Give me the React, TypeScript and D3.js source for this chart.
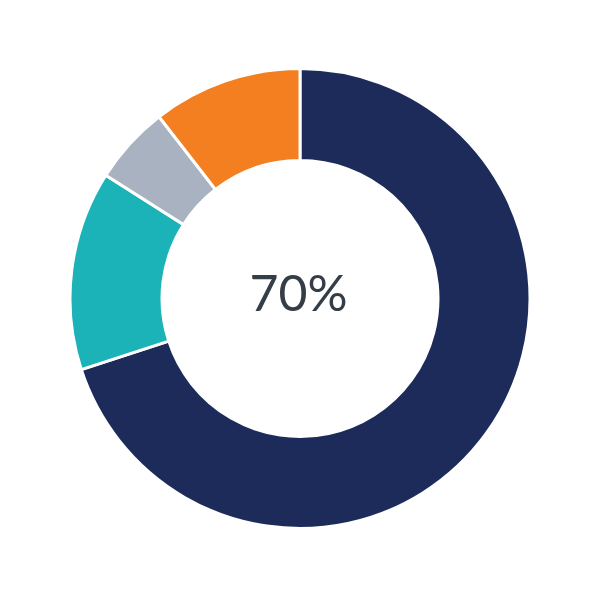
import * as d3 from "d3"

const categories = ["Primary", "Secondary", "Other", "Remaining"]
const values = [70, 14, 5.5, 10.5]
const colors = ["#1c2b5a", "#1cb3b8", "#a8b2c1", "#f37f21"]
const centerLabel = "70%"

export default function App() {
  const width = 600
  const height = 599
  const cx = 300
  const cy = 298.5
  const outerRadius = 230
  const innerRadius = 138

  const pie = d3
    .pie<number>()
    .sort(null)
    .value((d) => d)
  const arc = d3
    .arc<d3.PieArcDatum<number>>()
    .innerRadius(innerRadius)
    .outerRadius(outerRadius)

  const arcs = pie(values)

  return (
    <svg
      width={width}
      height={height}
      style={{ position: "absolute", left: 0, top: 0, background: "#fff" }}
    >
      <g transform={`translate(${cx},${cy})`}>
        {arcs.map((a, i) => (
          <path
            key={categories[i]}
            d={arc(a) || ""}
            fill={colors[i]}
            stroke="#fff"
            strokeWidth={3}
          />
        ))}
        <text
          x={-1.5}
          y={12.5}
          textAnchor="middle"
          fontFamily="Lato, sans-serif"
          fontSize={50}
          fill="#353d46"
        >
          {centerLabel}
        </text>
      </g>
    </svg>
  )
}
